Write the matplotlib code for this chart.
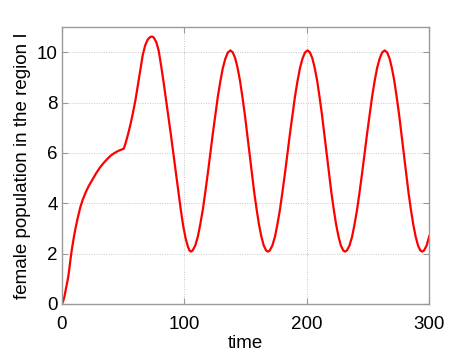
import matplotlib
matplotlib.use("Agg")
import matplotlib.pyplot as plt

plt.rcParams['font.family'] = ['Liberation Sans', 'DejaVu Sans']

# time samples and female population values
time = [0, 1, 2, 3, 4, 5, 6, 7, 8, 9.5, 11, 13, 15, 17, 19.5, 22, 25, 28, 31, 34,
        37, 40, 43, 46, 48.5, 50.5, 52, 54, 56, 58, 60, 62, 64, 66, 68, 70, 72,
        73.5, 75, 77, 79, 81, 83, 85, 87, 89, 91, 93, 95, 97, 99, 101, 103, 104.2,
        105.2,
        106.7, 108.8, 110.9, 112.9, 115.0, 117.0, 119.1, 121.1, 123.2, 125.3, 127.3,
        129.4, 131.4, 133.5, 135.5, 137.6,
        139.5, 141.5, 143.4, 145.4, 147.3, 149.3, 151.2, 153.1, 155.1, 157.0, 159.0,
        160.9, 162.9, 164.8, 166.7, 168.2,
        169.7, 171.8, 173.9, 175.9, 178.0, 180.0, 182.1, 184.1, 186.2, 188.3, 190.3,
        192.4, 194.4, 196.5, 198.5, 200.6,
        202.5, 204.5, 206.4, 208.4, 210.3, 212.3, 214.2, 216.1, 218.1, 220.0, 222.0,
        223.9, 225.9, 227.8, 229.7, 231.2,
        232.7, 234.8, 236.9, 238.9, 241.0, 243.0, 245.1, 247.1, 249.2, 251.3, 253.3,
        255.4, 257.4, 259.5, 261.5, 263.6,
        265.5, 267.5, 269.4, 271.4, 273.3, 275.3, 277.2, 279.1, 281.1, 283.0, 285.0,
        286.9, 288.9, 290.8, 292.7, 294.2,
        295.7, 297.8, 300.0]

female = [0, 0.12, 0.3, 0.55, 0.8, 1.05, 1.4, 1.8, 2.15, 2.6, 3.0, 3.45, 3.85, 4.15,
          4.45, 4.7, 4.95, 5.2, 5.42, 5.6, 5.76, 5.9, 6.0, 6.08, 6.13, 6.17, 6.4, 6.75,
          7.15, 7.6, 8.1, 8.7, 9.3, 9.9, 10.28, 10.5, 10.6, 10.62, 10.58, 10.4, 10.05,
          9.45, 8.8, 8.1, 7.4, 6.7, 5.96, 5.2, 4.45, 3.75, 3.1, 2.6, 2.25, 2.12, 2.08,
          2.125, 2.32, 2.665, 3.154, 3.743, 4.43, 5.186, 5.975, 6.768, 7.534, 8.241,
          8.864, 9.377, 9.755, 9.99, 10.07,
          9.99, 9.755, 9.377, 8.864, 8.241, 7.534, 6.768, 5.975, 5.186, 4.43, 3.743,
          3.154, 2.665, 2.32, 2.125, 2.08,
          2.125, 2.32, 2.665, 3.154, 3.743, 4.43, 5.186, 5.975, 6.768, 7.534, 8.241,
          8.864, 9.377, 9.755, 9.99, 10.07,
          9.99, 9.755, 9.377, 8.864, 8.241, 7.534, 6.768, 5.975, 5.186, 4.43, 3.743,
          3.154, 2.665, 2.32, 2.125, 2.08,
          2.125, 2.32, 2.665, 3.154, 3.743, 4.43, 5.186, 5.975, 6.768, 7.534, 8.241,
          8.864, 9.377, 9.755, 9.99, 10.07,
          9.99, 9.755, 9.377, 8.864, 8.241, 7.534, 6.768, 5.975, 5.186, 4.43, 3.743,
          3.154, 2.665, 2.32, 2.125, 2.08,
          2.125, 2.32, 2.7]

xticks = [0, 100, 200, 300]
yticks = [0, 2, 4, 6, 8, 10]

fig = plt.figure(figsize=(4.74, 3.55), dpi=100)
ax = fig.add_axes([0.1308, 0.1437, 0.7749, 0.7803])

ax.plot(time, female, color='#ff0000', linewidth=1.6)

ax.set_xlim(0, 300)
ax.set_ylim(0, 11)
ax.set_xticks(xticks)
ax.set_yticks(yticks)

grid_color = '#c8c8c8'
ax.grid(True, color=grid_color, linestyle=(0, (1, 1.5)), linewidth=0.7)
for s in ax.spines.values():
    s.set_color('#9a9a9a')
    s.set_linewidth(1.0)

ax.tick_params(axis='both', which='both', direction='in', length=4, width=0.8,
               color='#9a9a9a', top=True, right=True, labelsize=13.5,
               labelcolor='black')
ax.tick_params(axis='x', pad=9)
ax.tick_params(axis='y', pad=3)

ax.set_xlabel('time', fontsize=13.5, labelpad=1)
ax.set_ylabel('female population in the region I', fontsize=13.5, labelpad=4)

fig.savefig('out.png', dpi=100)
